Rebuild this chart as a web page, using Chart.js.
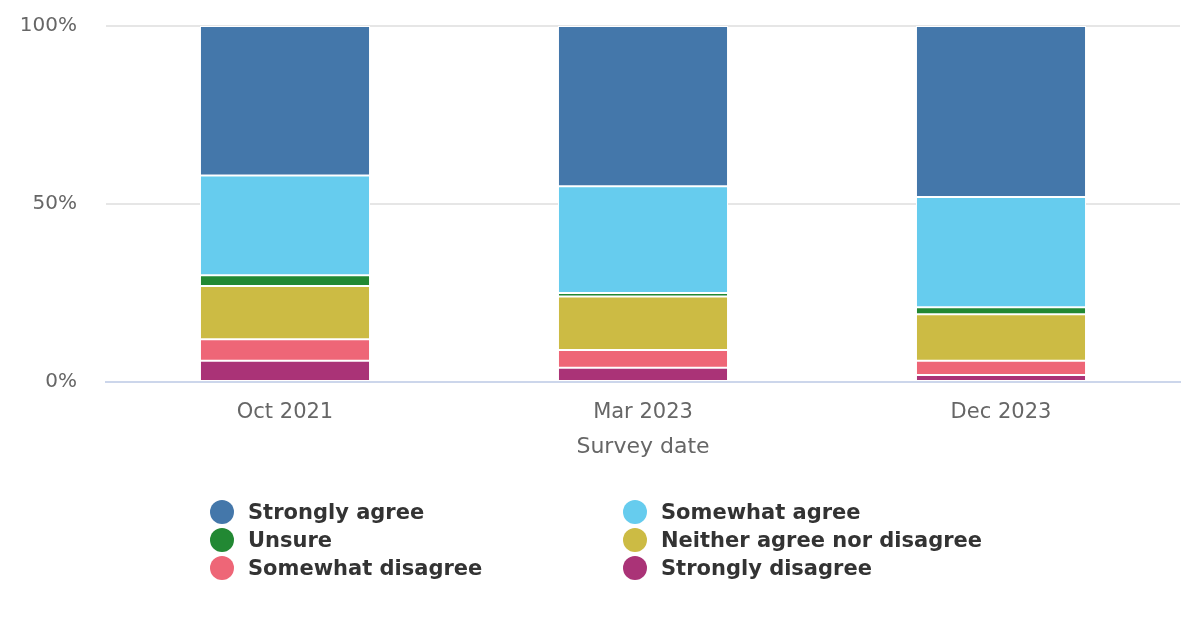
<!DOCTYPE html>
<html>
<head>
<meta charset="utf-8">
<script src="https://cdn.jsdelivr.net/npm/chart.js@4.4.1/dist/chart.umd.min.js"></script>
<style>
  html, body { margin: 0; padding: 0; background: #fff; }
  #wrap { position: relative; width: 1200px; height: 621px; }
  #legend {
    position: absolute; left: 210px; top: 500px;
    display: grid; grid-template-columns: 413px auto; row-gap: 4px;
    font-family: "DejaVu Sans", sans-serif; font-weight: bold; font-size: 21px; color: #333;
  }
  .item { display: flex; align-items: center; height: 24px; }
  .dot { width: 24px; height: 24px; border-radius: 50%; margin-right: 14px; flex: none; }
</style>
</head>
<body>
<div id="wrap">
  <canvas id="myChart"></canvas>
  <div id="legend"></div>
</div>
<script>
// survey answers, percent of respondents
var categories = ['Oct 2021', 'Mar 2023', 'Dec 2023'];
var stronglyAgree = [42, 45, 48];
var somewhatAgree = [28, 30, 31];
var unsure = [3, 1, 2];
var neither = [15, 15, 13];
var somewhatDisagree = [6, 5, 4];
var stronglyDisagree = [6, 4, 2];
var yTicks = [0, 50, 100];

// bottom of the stack first
var series = [
    { label: 'Strongly disagree', data: stronglyDisagree, color: '#AA3377' },
    { label: 'Somewhat disagree', data: somewhatDisagree, color: '#EE6677' },
    { label: 'Neither agree nor disagree', data: neither, color: '#CCBB44' },
    { label: 'Unsure', data: unsure, color: '#228833' },
    { label: 'Somewhat agree', data: somewhatAgree, color: '#66CCEE' },
    { label: 'Strongly agree', data: stronglyAgree, color: '#4477AA' }
];

var datasets = series.map(function (s) {
    return {
        label: s.label,
        data: s.data,
        backgroundColor: s.color,
        borderColor: '#ffffff',
        borderWidth: 1,
        borderSkipped: false,
        barPercentage: 0.475,
        categoryPercentage: 1
    };
});

var ctx = document.getElementById('myChart');
var myChart = new Chart(ctx, {
    type: 'bar',
    data: { labels: categories, datasets: datasets },
    options: {
        responsive: true,
        maintainAspectRatio: false,
        animation: false,
        layout: { padding: { top: 26, right: 20, bottom: 161, left: 0 } },
        plugins: { legend: { display: false }, tooltip: { enabled: false } },
        scales: {
            x: {
                stacked: true,
                grid: { display: false, drawTicks: false },
                border: { display: true, color: '#ccd6eb', width: 2 },
                ticks: { color: '#666', padding: 18, font: { family: 'DejaVu Sans', size: 21 } },
                title: {
                    display: true, text: 'Survey date', color: '#666',
                    font: { family: 'DejaVu Sans', size: 22 }, padding: { top: 0, bottom: 0 }
                },
                afterFit: function (scale) { scale.height = 78; }
            },
            y: {
                stacked: true,
                min: 0, max: 100,
                afterBuildTicks: function (scale) {
                    scale.ticks = yTicks.map(function (v) { return { value: v }; });
                },
                afterFit: function (scale) { scale.width = 106; },
                border: { display: false },
                grid: {
                    drawTicks: true, tickLength: 26, tickColor: 'rgba(0,0,0,0)', lineWidth: 2,
                    color: function (c) { return c.tick && c.tick.value === 0 ? '#ccd6eb' : '#e6e6e6'; }
                },
                ticks: {
                    color: '#666', padding: 3, font: { family: 'DejaVu Sans', size: 20 },
                    callback: function (v) { return v + '%'; }
                }
            }
        }
    }
});

// legend in two columns, top of the stack first
var html = series.slice().reverse().map(function (s) {
    return `<div class="item"><span class="dot" style="background:${s.color}"></span>${s.label}</div>`;
}).join('');
document.getElementById('legend').innerHTML = html;
</script>
</body>
</html>
